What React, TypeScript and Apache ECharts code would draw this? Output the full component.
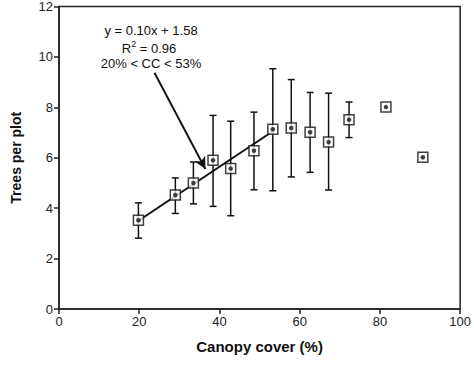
import React, { useEffect, useRef } from "react";
import * as echarts from "echarts";

const canopyCover = [19.8, 29.0, 33.5, 38.4, 42.8, 48.6, 53.3, 57.9, 62.6, 67.2, 72.3, 81.5, 90.7];
const treesPerPlot = [3.52, 4.52, 5.0, 5.9, 5.57, 6.28, 7.13, 7.18, 7.01, 6.62, 7.51, 8.01, 6.02];
const errLow = [2.81, 3.79, 4.17, 4.07, 3.7, 4.73, 4.69, 5.24, 5.42, 4.72, 6.8];
const errHigh = [4.21, 5.2, 5.83, 7.68, 7.45, 7.81, 9.53, 9.1, 8.59, 8.56, 8.21];
const fitX = [19.8, 53.3];
const fitY = [3.5, 7.05];
const arrowFrom = [23.8, 9.37];
const arrowTo = [36.5, 5.55];
const xTicks = [0, 20, 40, 60, 80, 100];
const yTicks = [0, 2, 4, 6, 8, 10, 12];

const FONT = "'Liberation Sans', Arial, sans-serif";

export default function App() {
  const ref = useRef<HTMLDivElement>(null);
  useEffect(() => {
    if (!ref.current) return;
    const chart = echarts.init(ref.current, null, { renderer: "svg" });
    const points = canopyCover.map((x, i) => [x, treesPerPlot[i]]);
    const errData = errLow.map((lo, i) => [canopyCover[i], lo, errHigh[i]]);
    chart.setOption({
      animation: false,
      backgroundColor: "#fff",
      grid: {
        left: 59,
        right: 11,
        top: 6,
        bottom: 66,
        show: true,
        borderColor: "#222",
        borderWidth: 1.5,
      },
      xAxis: {
        type: "value",
        min: xTicks[0],
        max: xTicks[xTicks.length - 1],
        interval: 20,
        name: "Canopy cover (%)",
        nameLocation: "middle",
        nameGap: 30,
        nameTextStyle: { fontFamily: FONT, fontSize: 15, fontWeight: "bold", color: "#111" },
        axisLine: { lineStyle: { color: "#222", width: 1.5 } },
        axisTick: { show: true, inside: false, length: 5, lineStyle: { color: "#222", width: 1.5 } },
        axisLabel: { fontFamily: FONT, fontSize: 13, color: "#222", margin: 6 },
        splitLine: { show: false },
      },
      yAxis: {
        type: "value",
        min: yTicks[0],
        max: yTicks[yTicks.length - 1],
        interval: 2,
        name: "Trees per plot",
        nameLocation: "middle",
        nameGap: 36,
        nameTextStyle: { fontFamily: FONT, fontSize: 14, fontWeight: "bold", color: "#111" },
        axisLine: { show: true, lineStyle: { color: "#222", width: 1.5 } },
        axisTick: { show: true, inside: false, length: 5, lineStyle: { color: "#222", width: 1.5 } },
        axisLabel: { fontFamily: FONT, fontSize: 13, color: "#222", margin: 6 },
        splitLine: { show: false },
      },
      graphic: [
        {
          type: "text",
          x: 151,
          y: 30,
          style: {
            text: "y = 0.10x + 1.58",
            font: `13px ${FONT}`,
            fill: "#111",
            align: "center",
            verticalAlign: "middle",
          },
        },
        {
          type: "text",
          x: 149,
          y: 47,
          style: {
            text: "{a|R}{s|2}{a| = 0.96}",
            fill: "#111",
            align: "center",
            verticalAlign: "middle",
            rich: {
              a: { fontFamily: FONT, fontSize: 13, fill: "#111", verticalAlign: "bottom" },
              s: { fontFamily: FONT, fontSize: 9, fill: "#111", verticalAlign: "top", padding: [0, 0, 6, 0] },
            },
          },
        },
        {
          type: "text",
          x: 151,
          y: 63,
          style: {
            text: "20% < CC < 53%",
            font: `13px ${FONT}`,
            fill: "#111",
            align: "center",
            verticalAlign: "middle",
          },
        },
      ],
      series: [
        {
          type: "line",
          data: fitX.map((x, i) => [x, fitY[i]]),
          symbol: "none",
          lineStyle: { color: "#111", width: 2 },
          z: 2,
          markLine: {
            silent: true,
            symbol: ["none", "arrow"],
            symbolSize: [9, 12],
            label: { show: false },
            lineStyle: { color: "#111", width: 2, type: "solid" },
            data: [[{ coord: arrowFrom }, { coord: arrowTo }]],
          },
        },
        {
          type: "custom",
          data: errData,
          z: 3,
          renderItem: (params: any, api: any) => {
            const x = api.value(0);
            const lo = api.value(1);
            const hi = api.value(2);
            const top = api.coord([x, hi]);
            const bot = api.coord([x, lo]);
            const w = 3.5;
            const st = { stroke: "#111", lineWidth: 1.5 };
            return {
              type: "group",
              children: [
                { type: "line", shape: { x1: top[0], y1: top[1], x2: bot[0], y2: bot[1] }, style: st },
                { type: "line", shape: { x1: top[0] - w, y1: top[1], x2: top[0] + w, y2: top[1] }, style: st },
                { type: "line", shape: { x1: bot[0] - w, y1: bot[1], x2: bot[0] + w, y2: bot[1] }, style: st },
              ],
            };
          },
        },
        {
          type: "scatter",
          data: points,
          symbol: "rect",
          symbolSize: 10,
          itemStyle: { color: "#fff", borderColor: "#111", borderWidth: 1.5 },
          z: 4,
        },
        {
          type: "scatter",
          data: points,
          symbol: "circle",
          symbolSize: 4.5,
          itemStyle: { color: "#111" },
          z: 5,
        },
      ],
    });
    return () => chart.dispose();
  }, []);
  return <div ref={ref} style={{ width: 474, height: 375, position: "absolute", left: 0, top: 0 }} />;
}
